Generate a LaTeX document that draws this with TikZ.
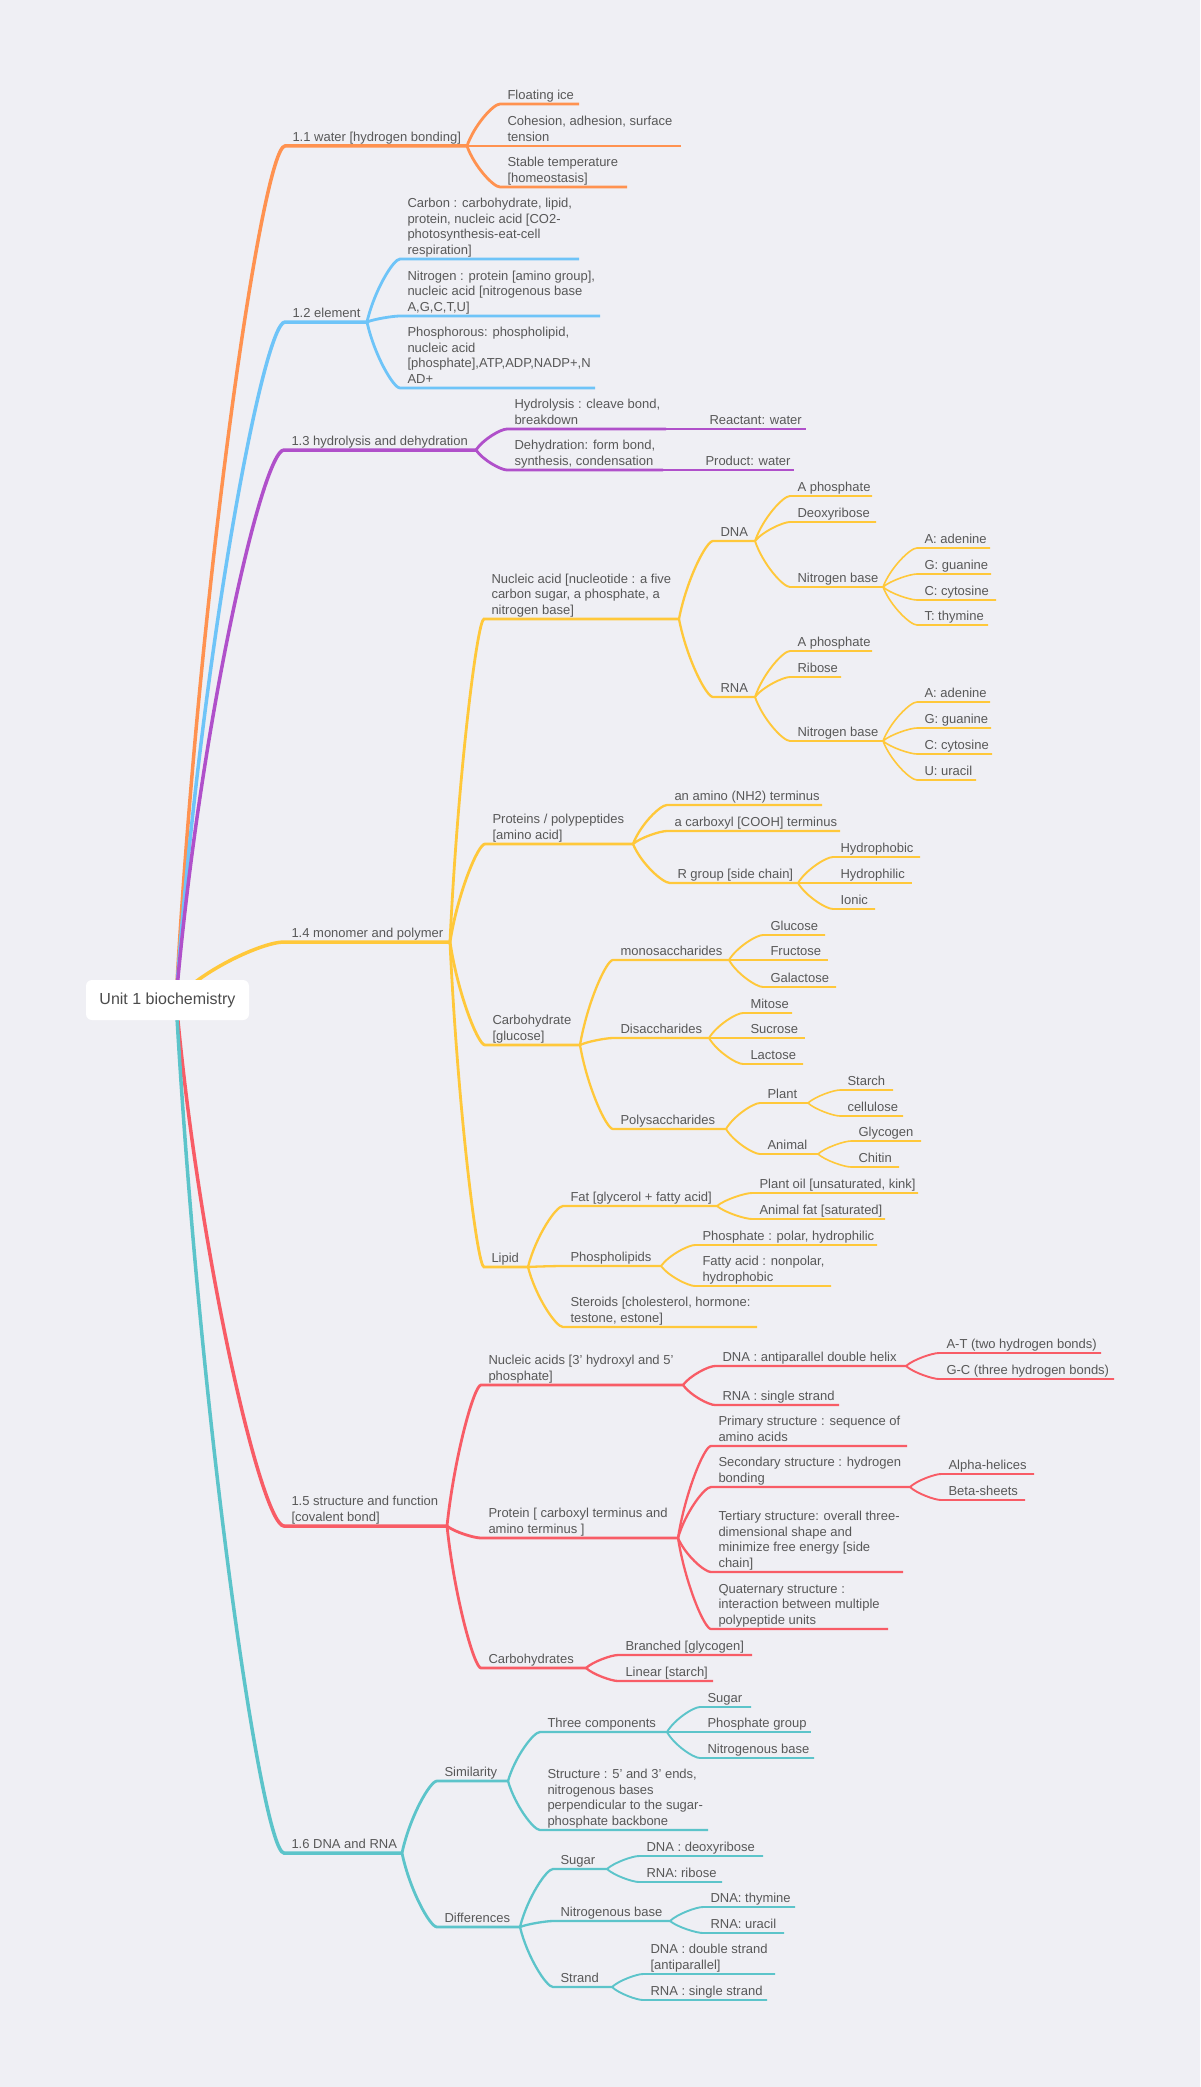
\documentclass[tikz,border=0pt]{standalone}
\usepackage{fontspec}
\setmainfont{Liberation Sans}
\usetikzlibrary{calc}
\definecolor{bgc}{RGB}{239,239,244}
\definecolor{txt}{RGB}{88,88,88}
\definecolor{cor}{RGB}{255,146,80}
\definecolor{cbl}{RGB}{110,196,248}
\definecolor{cpu}{RGB}{176,80,202}
\definecolor{cye}{RGB}{255,200,58}
\definecolor{cre}{RGB}{248,92,102}
\definecolor{cte}{RGB}{92,196,202}
\newcommand\ml[1]{\begin{tabular}[b]{@{}l@{}}#1\end{tabular}}
\newcommand\nt[2]{\makebox[#1pt][l]{\hspace{7.5pt}\ml{#2}}}
\newcommand\cn[3]{\draw[#1] let \p1=(#2), \p2=(#3.south west) in (\p1) .. controls ({\x1+0.22*(\x2-\x1)},{\y1+0.5*(\y2-\y1)}) and ({\x1+0.8*(\x2-\x1)},\y2) .. (\p2) -- (#3.south east);}
\pgfdeclarelayer{bgl}
\pgfdeclarelayer{lines}
\pgfsetlayers{bgl,lines,main}
\tikzset{
  nd/.style={anchor=south west, inner sep=0pt, outer sep=0pt, font=\fontsize{13pt}{15.6pt}\selectfont, text=txt},
  rt/.style={fill=white, rounded corners=6pt, minimum width=163pt, minimum height=40pt, inner sep=0pt, font=\fontsize{16pt}{19pt}\selectfont, text=txt!85!black},
  L1/.style={line width=3.5pt, draw=#1},
  L2/.style={line width=2.8pt, draw=#1},
  L3/.style={line width=2.3pt, draw=#1},
  L4/.style={line width=1.9pt, draw=#1},
  L5/.style={line width=1.6pt, draw=#1}
}
\begin{document}
\begin{tikzpicture}[x=1pt, y=-1pt, line cap=round, line join=round]
\useasboundingbox (0,0) rectangle (1200,2087);
\begin{pgfonlayer}{bgl}
\fill[bgc] (0,0) rectangle (1200,2087);
\end{pgfonlayer}
\node[rt] (root) at (167.5,1000) {Unit 1 biochemistry};
\coordinate (o) at (176,1000);
% 1.1
\node[nd] (w) at (285,146) {\nt{182}{1.1 water [hydrogen bonding]}};
\node[nd] (w1) at (500,104) {\nt{79}{Floating ice}};
\node[nd] (w2) at (500,146) {\nt{181}{Cohesion, adhesion, surface\\tension}};
\node[nd] (w3) at (500,187) {\nt{127}{Stable temperature\\{}[homeostasis]}};
% 1.2
\node[nd] (e) at (285,322) {\nt{82}{1.2 element}};
\node[nd] (e1) at (400,259) {\nt{179}{Carbon : carbohydrate, lipid,\\protein, nucleic acid [CO2-\\photosynthesis-eat-cell\\respiration]}};
\node[nd] (e2) at (400,316) {\nt{200}{Nitrogen : protein [amino group],\\nucleic acid [nitrogenous base\\A,G,C,T,U]}};
\node[nd] (e3) at (400,388) {\nt{195}{Phosphorous: phospholipid,\\nucleic acid\\{}[phosphate],ATP,ADP,NADP+,N\\AD+}};
% 1.3
\node[nd] (h) at (284,450) {\nt{192}{1.3 hydrolysis and dehydration}};
\node[nd] (h1) at (507,429) {\nt{159}{Hydrolysis : cleave bond,\\breakdown}};
\node[nd] (h11) at (702,429) {\nt{104}{Reactant: water}};
\node[nd] (h2) at (507,470) {\nt{156}{Dehydration: form bond,\\synthesis, condensation}};
\node[nd] (h21) at (698,470) {\nt{96}{Product: water}};
% 1.4
\node[nd] (m) at (284,942) {\nt{166}{1.4 monomer and polymer}};
\node[nd] (na) at (484,619) {\nt{195}{Nucleic acid [nucleotide : a five\\carbon sugar, a phosphate, a\\nitrogen base]}};
\node[nd] (dna) at (713,541) {\nt{42}{DNA}};
\node[nd] (dna1) at (790,496) {\nt{82}{A phosphate}};
\node[nd] (dna2) at (790,522) {\nt{86}{Deoxyribose}};
\node[nd] (dna3) at (790,587) {\nt{93}{Nitrogen base}};
\node[nd] (dnaA) at (917,548) {\nt{73}{A: adenine}};
\node[nd] (dnaG) at (917,574) {\nt{74}{G: guanine}};
\node[nd] (dnaC) at (917,600) {\nt{79}{C: cytosine}};
\node[nd] (dnaT) at (917,625) {\nt{71}{T: thymine}};
\node[nd] (rna) at (713,697) {\nt{42}{RNA}};
\node[nd] (rna1) at (790,651) {\nt{82}{A phosphate}};
\node[nd] (rna2) at (790,677) {\nt{51}{Ribose}};
\node[nd] (rna3) at (790,741) {\nt{93}{Nitrogen base}};
\node[nd] (rnaA) at (917,702) {\nt{73}{A: adenine}};
\node[nd] (rnaG) at (917,728) {\nt{74}{G: guanine}};
\node[nd] (rnaC) at (917,754) {\nt{75}{C: cytosine}};
\node[nd] (rnaU) at (917,780) {\nt{59}{U: uracil}};
\node[nd] (pr) at (485,844) {\nt{148}{Proteins / polypeptides\\{}[amino acid]}};
\node[nd] (pr1) at (667,805) {\nt{155}{an amino (NH2) terminus}};
\node[nd] (pr2) at (667,831) {\nt{173}{a carboxyl [COOH] terminus}};
\node[nd] (pr3) at (670,883) {\nt{128}{R group [side chain]}};
\node[nd] (pr31) at (833,857) {\nt{87}{Hydrophobic}};
\node[nd] (pr32) at (833,883) {\nt{79}{Hydrophilic}};
\node[nd] (pr33) at (833,909) {\nt{42}{Ionic}};
\node[nd] (cb) at (485,1045) {\nt{95}{Carbohydrate\\{}[glucose]}};
\node[nd] (mono) at (613,960) {\nt{116}{monosaccharides}};
\node[nd] (mono1) at (763,935) {\nt{62}{Glucose}};
\node[nd] (mono2) at (763,960) {\nt{65}{Fructose}};
\node[nd] (mono3) at (763,987) {\nt{73}{Galactose}};
\node[nd] (di) at (613,1038) {\nt{96}{Disaccharides}};
\node[nd] (di1) at (743,1013) {\nt{49}{Mitose}};
\node[nd] (di2) at (743,1038) {\nt{62}{Sucrose}};
\node[nd] (di3) at (743,1064) {\nt{60}{Lactose}};
\node[nd] (po) at (613,1129) {\nt{113}{Polysaccharides}};
\node[nd] (pl) at (760,1103) {\nt{48}{Plant}};
\node[nd] (pl1) at (840,1090) {\nt{53}{Starch}};
\node[nd] (pl2) at (840,1116) {\nt{63}{cellulose}};
\node[nd] (an) at (760,1154) {\nt{58}{Animal}};
\node[nd] (an1) at (851,1141) {\nt{70}{Glycogen}};
\node[nd] (an2) at (851,1167) {\nt{48}{Chitin}};
\node[nd] (li) at (484,1267) {\nt{44}{Lipid}};
\node[nd] (fat) at (563,1206) {\nt{154}{Fat [glycerol + fatty acid]}};
\node[nd] (fat1) at (752,1193) {\nt{166}{Plant oil [unsaturated, kink]}};
\node[nd] (fat2) at (752,1219) {\nt{133}{Animal fat [saturated]}};
\node[nd] (ph) at (563,1266) {\nt{98}{Phospholipids}};
\node[nd] (ph1) at (695,1245) {\nt{182}{Phosphate : polar, hydrophilic}};
\node[nd] (ph2) at (695,1286) {\nt{136}{Fatty acid : nonpolar,\\hydrophobic}};
\node[nd] (st) at (563,1327) {\nt{194}{Steroids [cholesterol, hormone:\\testone, estone]}};
% 1.5
\node[nd] (s) at (284,1526) {\nt{163}{1.5 structure and function\\{}[covalent bond]}};
\node[nd] (sn) at (481,1385) {\nt{202}{Nucleic acids [3’ hydroxyl and 5’\\phosphate]}};
\node[nd] (sn1) at (715,1366) {\nt{191}{DNA : antiparallel double helix}};
\node[nd] (sn11) at (939,1353) {\nt{162}{A-T (two hydrogen bonds)}};
\node[nd] (sn12) at (939,1379) {\nt{175}{G-C (three hydrogen bonds)}};
\node[nd] (sn2) at (715,1405) {\nt{124}{RNA : single strand}};
\node[nd] (sp) at (481,1538) {\nt{197}{Protein [ carboxyl terminus and\\amino terminus ]}};
\node[nd] (sp1) at (711,1446) {\nt{196}{Primary structure : sequence of\\amino acids}};
\node[nd] (sp2) at (711,1487) {\nt{199}{Secondary structure : hydrogen\\bonding}};
\node[nd] (sp21) at (941,1474) {\nt{93}{Alpha-helices}};
\node[nd] (sp22) at (941,1500) {\nt{84}{Beta-sheets}};
\node[nd] (sp3) at (711,1572) {\nt{192}{Tertiary structure: overall three-\\dimensional shape and\\minimize free energy [side\\chain]}};
\node[nd] (sp4) at (711,1629) {\nt{177}{Quaternary structure :\\interaction between multiple\\polypeptide units}};
\node[nd] (sc) at (481,1668) {\nt{105}{Carbohydrates}};
\node[nd] (sc1) at (618,1655) {\nt{134}{Branched [glycogen]}};
\node[nd] (sc2) at (618,1681) {\nt{95}{Linear [starch]}};
% 1.6
\node[nd] (d) at (284,1853) {\nt{118}{1.6 DNA and RNA}};
\node[nd] (sim) at (437,1781) {\nt{71}{Similarity}};
\node[nd] (tc) at (540,1732) {\nt{127}{Three components}};
\node[nd] (tc1) at (700,1707) {\nt{51}{Sugar}};
\node[nd] (tc2) at (700,1732) {\nt{111}{Phosphate group}};
\node[nd] (tc3) at (700,1758) {\nt{114}{Nitrogenous base}};
\node[nd] (str) at (540,1830) {\nt{168}{Structure : 5’ and 3’ ends,\\nitrogenous bases\\perpendicular to the sugar-\\phosphate backbone}};
\node[nd] (dif) at (437,1927) {\nt{83}{Differences}};
\node[nd] (ds) at (553,1869) {\nt{54}{Sugar}};
\node[nd] (ds1) at (639,1856) {\nt{124}{DNA : deoxyribose}};
\node[nd] (ds2) at (639,1882) {\nt{83}{RNA: ribose}};
\node[nd] (dn) at (553,1921) {\nt{117}{Nitrogenous base}};
\node[nd] (dn1) at (703,1907) {\nt{92}{DNA: thymine}};
\node[nd] (dn2) at (703,1933) {\nt{81}{RNA: uracil}};
\node[nd] (dst) at (553,1987) {\nt{59}{Strand}};
\node[nd] (dst1) at (643,1974) {\nt{132}{DNA : double strand\\{}[antiparallel]}};
\node[nd] (dst2) at (643,2000) {\nt{124}{RNA : single strand}};
\begin{pgfonlayer}{lines}
% main branches
\cn{L1=cor}{o}{w}
\cn{L1=cbl}{o}{e}
\cn{L1=cpu}{o}{h}
\cn{L1=cye}{o}{m}
\cn{L1=cre}{o}{s}
\cn{L1=cte}{o}{d}
% orange
\foreach \a/\b in {w/w1,w/w2,w/w3} {\cn{L2=cor}{\a.south east}{\b}}
% blue
\foreach \a/\b in {e/e1,e/e2,e/e3} {\cn{L2=cbl}{\a.south east}{\b}}
% purple
\foreach \a/\b in {h/h1,h/h2} {\cn{L2=cpu}{\a.south east}{\b}}
\foreach \a/\b in {h1/h11,h2/h21} {\cn{L3=cpu}{\a.south east}{\b}}
% yellow
\foreach \a/\b in {m/na,m/pr,m/cb,m/li} {\cn{L2=cye}{\a.south east}{\b}}
\foreach \a/\b in {na/dna,na/rna,pr/pr1,pr/pr2,pr/pr3,cb/mono,cb/di,cb/po,li/fat,li/ph,li/st} {\cn{L3=cye}{\a.south east}{\b}}
\foreach \a/\b in {dna/dna1,dna/dna2,dna/dna3,rna/rna1,rna/rna2,rna/rna3,pr3/pr31,pr3/pr32,pr3/pr33,mono/mono1,mono/mono2,mono/mono3,di/di1,di/di2,di/di3,po/pl,po/an,fat/fat1,fat/fat2,ph/ph1,ph/ph2} {\cn{L4=cye}{\a.south east}{\b}}
\foreach \a/\b in {dna3/dnaA,dna3/dnaG,dna3/dnaC,dna3/dnaT,rna3/rnaA,rna3/rnaG,rna3/rnaC,rna3/rnaU,pl/pl1,pl/pl2,an/an1,an/an2} {\cn{L5=cye}{\a.south east}{\b}}
% red
\foreach \a/\b in {s/sn,s/sp,s/sc} {\cn{L2=cre}{\a.south east}{\b}}
\foreach \a/\b in {sn/sn1,sn/sn2,sp/sp1,sp/sp2,sp/sp3,sp/sp4,sc/sc1,sc/sc2} {\cn{L3=cre}{\a.south east}{\b}}
\foreach \a/\b in {sn1/sn11,sn1/sn12,sp2/sp21,sp2/sp22} {\cn{L4=cre}{\a.south east}{\b}}
% teal
\foreach \a/\b in {d/sim,d/dif} {\cn{L2=cte}{\a.south east}{\b}}
\foreach \a/\b in {sim/tc,sim/str,dif/ds,dif/dn,dif/dst} {\cn{L3=cte}{\a.south east}{\b}}
\foreach \a/\b in {tc/tc1,tc/tc2,tc/tc3,ds/ds1,ds/ds2,dn/dn1,dn/dn2,dst/dst1,dst/dst2} {\cn{L4=cte}{\a.south east}{\b}}
\end{pgfonlayer}
\end{tikzpicture}
\end{document}
